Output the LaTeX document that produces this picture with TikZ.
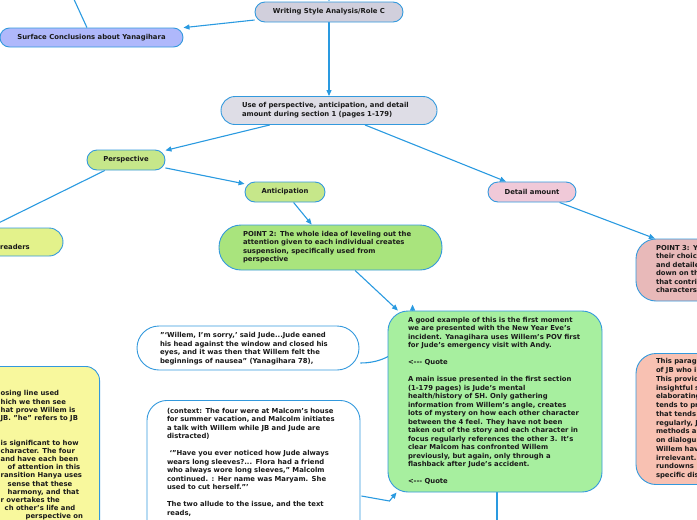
\documentclass[tikz,border=0pt]{standalone}
\usepackage{fontspec}
\setmainfont{DejaVu Sans}
\usetikzlibrary{arrows.meta,backgrounds,calc}
\definecolor{edge}{HTML}{3399DD}
\definecolor{linec}{HTML}{2A9AE0}
\definecolor{txt}{HTML}{1A1A1A}
\definecolor{cws}{HTML}{D1CFDC}
\definecolor{csur}{HTML}{AFB8FB}
\definecolor{cuse}{HTML}{DEDDE6}
\definecolor{cgr}{HTML}{C6E78A}
\definecolor{cdet}{HTML}{F0C9D8}
\definecolor{cread}{HTML}{E3F28B}
\definecolor{cptwo}{HTML}{A9E47D}
\definecolor{cpthree}{HTML}{E8B9B9}
\definecolor{cbig}{HTML}{A7EF9F}
\definecolor{cyel}{HTML}{F8F89D}
\definecolor{csal}{HTML}{F8C1B2}
\newcommand{\mmlines}[1]{\begin{tabular}{@{}l@{}}#1\end{tabular}}
\begin{document}
\begin{tikzpicture}[x=1pt,y=-1pt,
  every node/.style={font=\fontsize{6.85}{8.5}\selectfont\bfseries, text=txt},
  nodebox/.style={draw=edge, line width=0.9pt, rounded corners=#1, inner ysep=0pt},
  nodebox/.default=10pt,
  conn/.style={draw=linec, line width=1.1pt},
  arr/.style={conn, -{Triangle[length=6pt,width=5pt]}}]
\useasboundingbox (0,0) rectangle (697,520);
\begin{scope}
\clip (0,0) rectangle (697,520);
\node[nodebox, fill=cws, minimum width=148pt, minimum height=20pt] (ws) at (329,12) {Writing Style Analysis/Role C};
\node[nodebox=9.5pt, fill=csur, minimum width=183pt, minimum height=19pt] (sur) at (91.5,37.5) {Surface Conclusions about Yanagihara};
\node[nodebox=14pt, fill=cuse, minimum width=216pt, minimum height=28pt, text width=174pt, inner xsep=21pt, align=left] (use) at (329,110.5) {\mmlines{Use of perspective, anticipation, and detail\\amount during section 1 (pages 1-179)}};
\node[nodebox, fill=cgr, minimum width=78pt, minimum height=20pt] (per) at (126,160) {Perspective};
\node[nodebox, fill=cgr, minimum width=80pt, minimum height=20pt] (ant) at (285,192) {Anticipation};
\node[nodebox, fill=cdet, minimum width=88pt, minimum height=20pt] (det) at (532,192) {Detail amount};
\node[nodebox=14pt, fill=cread, minimum width=206pt, minimum height=28pt] (rea) at (-40,242) {};
\node[anchor=base east, inner sep=0pt] (reatext) at (30,249) {readers};
\node[nodebox=22pt, fill=cptwo, minimum width=223pt, minimum height=45pt, text width=175pt, inner xsep=24pt, align=left] (ptwo) at (330.5,247.5) {\mmlines{POINT 2: The whole idea of leveling out the\\attention given to each individual creates\\suspension, specifically used from\\perspective}};
\node[nodebox=20pt, fill=cpthree, minimum width=204pt, minimum height=62pt, text width=164pt, inner xsep=20pt, align=left] (pthree) at (738,270) {\mmlines{POINT 3: Y\\their choic\\and detaile\\down on th\\that contri\\characters}};
\node[nodebox=20pt, fill=cbig, minimum width=214pt, minimum height=181pt, text width=174pt, inner xsep=20pt, align=left] (big) at (495,401.5) {\mmlines{A good example of this is the first moment\\we are presented with the New Year Eve's\\incident. Yanagihara uses Willem's POV first\\for Jude's emergency visit with Andy.\\[8.5pt]<-{}-{}- Quote\\[8.5pt]A main issue presented in the first section\\(1-179 pages) is Jude's mental\\health/history of SH. Only gathering\\information from Willem's angle, creates\\lots of mystery on how each other character\\between the 4 feel. They have not been\\taken out of the story and each character in\\focus regularly references the other 3. It's\\clear Malcom has confronted Willem\\previously, but again, only through a\\flashback after Jude's accident.\\[8.5pt]<-{}-{}- Quote}};
\node[nodebox=22pt, fill=white, minimum width=222pt, minimum height=44pt, text width=176pt, inner xsep=23pt, align=left] (sor) at (248,348) {\mmlines{\rule{0pt}{7.5pt}"`Willem, I'm sorry,' said Jude...Jude eaned\\his head against the window and closed his\\eyes, and it was then that Willem felt the\\beginnings of nausea" (Yanagihara 78),}};
\node[nodebox=20pt, fill=white, minimum width=213pt, text width=173pt, inner xsep=20pt, inner ysep=6.6pt, align=left, anchor=north] (con) at (253.5,400) {\mmlines{(context: The four were at Malcom's house\\for summer vacation, and Malcolm initiates\\a talk with Willem while JB and Jude are\\distracted)\\[8.5pt]\hspace*{2.5pt}`"Have you ever noticed how Jude always\\wears long sleeves?... Flora had a friend\\who always wore long sleeves," Malcolm\\continued. : Her name was Maryam. She\\used to cut herself."'\\[8.5pt]The two allude to the issue, and the text\\reads,\\\rule{0pt}{40pt}}};
\node[nodebox=14pt, fill=cyel, minimum width=200pt, minimum height=200pt, anchor=north east] (yel) at (100,366) {};
\node[anchor=north west, inner sep=0pt, font=\fontsize{6.85}{8.2}\selectfont\bfseries] (yeltext) at (0.5,389.9) {\mmlines{osing line used\\hich we then see\\hat prove Willem is\\JB. "he" refers to JB\\[16.4pt]is significant to how\\character. The four\\and have each been\\\hspace*{7pt}of attention in this\\ransition Hanya uses\\\hspace*{7pt}sense that these\\\hspace*{7pt}harmony, and that\\r overtakes the\\\hspace*{4pt}ch other's life and\\\hspace*{25pt}perspective on}};
\node[nodebox=20pt, fill=csal, minimum width=204pt, minimum height=131pt, text width=164pt, inner xsep=20pt, align=left, font=\fontsize{6.85}{8.75}\selectfont\bfseries] (sal) at (738,419) {\mmlines{This parag\\of JB who i\\This provid\\insightful s\\elaborating\\tends to pr\\that tends\\regularly, J\\methods a\\on dialogu\\Willem hav\\irrelevant.\\rundowns\\specific dis}};
\end{scope}
\begin{scope}[on background layer]
\clip (0,0) rectangle (697,520);
\coordinate (wsin) at (329,-30);
\coordinate (surout) at (72,-5);
\draw[arr] (wsin) -- (ws);
\draw[conn] (sur) -- (surout);
\draw[arr] (ws) -- (sur);
\draw[arr] (ws) -- (use);
\draw[arr] (use) -- (per);
\draw[arr] (per) -- (ant);
\draw[arr] (use) -- (det);
\draw[arr] (per) -- (rea);
\draw[arr] (ant) -- (ptwo);
\draw[arr] (det) -- (pthree);
\draw[arr] (ptwo) -- (big);
\draw[arr] ($(sor.east)+(1,15)$) .. controls +(30,0) and +(0,40) .. ($(big.north west)+(25,-6)$);
\draw[arr] ($(con.north east)+(1,96)$) -- ++(28,5) -- ($(big.south west)+(9,0)$);
\draw[conn] ($(big.south)+(2,0)$) -- ++(0,60);
\end{scope}
\end{tikzpicture}
\end{document}
